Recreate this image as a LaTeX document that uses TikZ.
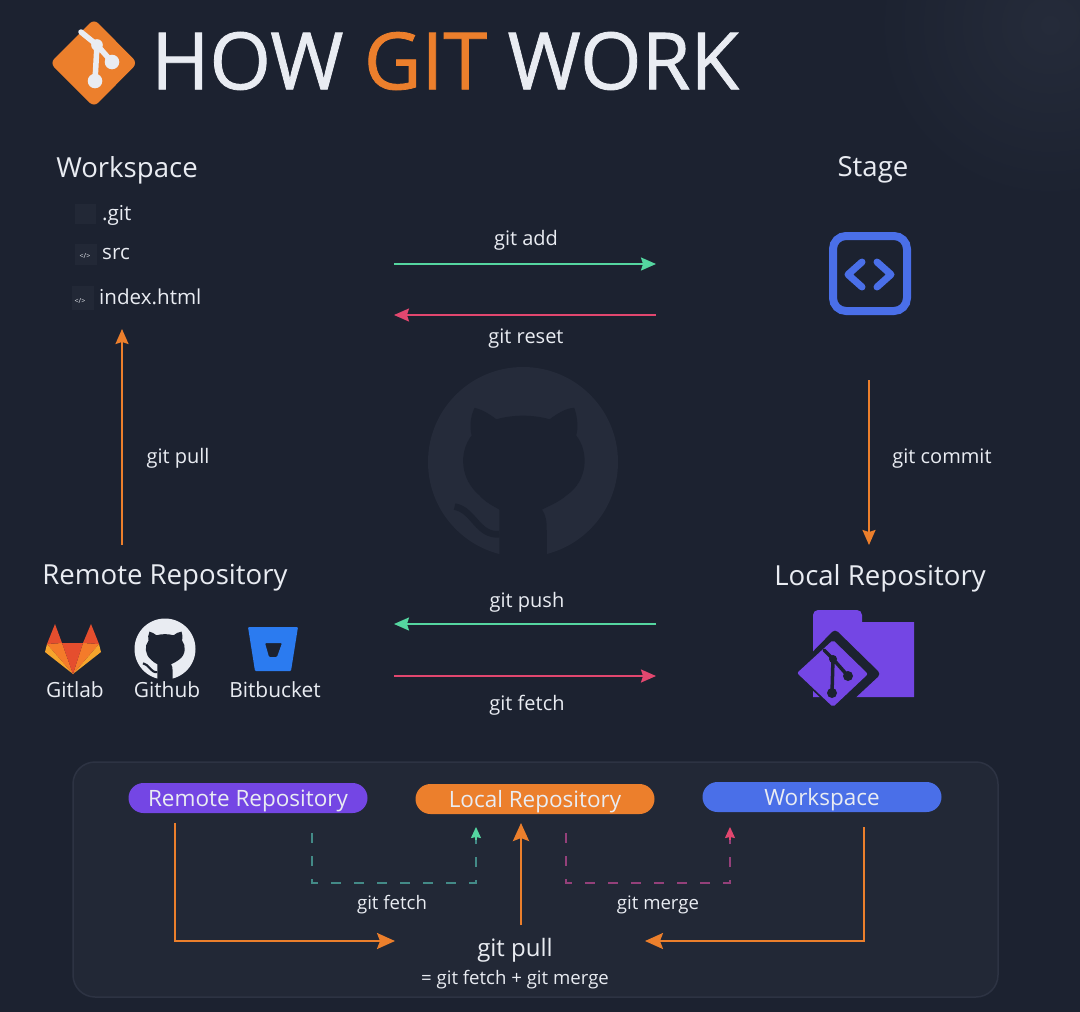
\documentclass[tikz,border=0pt]{standalone}
\usepackage{fontspec}
\setmainfont{Open Sans}
\newfontfamily\titlefont[FakeBold=1]{Open Sans}
\usetikzlibrary{arrows.meta}
\definecolor{pageBg}{HTML}{1C2230}
\definecolor{panelBg}{HTML}{222836}
\definecolor{panelEdge}{HTML}{2D3343}
\definecolor{ringGrey}{HTML}{252B3A}
\definecolor{softWhite}{HTML}{E9ECF2}
\definecolor{gitOrange}{HTML}{EC7F2C}
\definecolor{flowGreen}{HTML}{55D6A0}
\definecolor{flowPink}{HTML}{E2476F}
\definecolor{dashTeal}{HTML}{438A87}
\definecolor{dashPink}{HTML}{94407A}
\definecolor{iconBlue}{HTML}{4A6FE8}
\definecolor{iconPurple}{HTML}{7446E4}
\definecolor{bucketBlue}{HTML}{2B7BF0}
\definecolor{fileBox}{HTML}{222836}
\definecolor{labRed}{HTML}{E54E2E}
\definecolor{labOrange}{HTML}{F47B2A}
\definecolor{labYellow}{HTML}{F6A52C}
\tikzset{
	flowlabel/.style={inner sep=0pt, yshift=-2.5pt, text=softWhite, font=\fontsize{20}{24}\selectfont},
	filelabel/.style={inner sep=0pt, yshift=-2pt, anchor=west, text=softWhite, font=\fontsize{20.6}{24}\selectfont},
	iconlabel/.style={inner sep=0pt, yshift=-1pt, text=softWhite, font=\fontsize{20.9}{24}\selectfont},
	heading/.style={inner sep=0pt, yshift=-3pt, text=softWhite, font=\fontsize{27.6}{32}\selectfont},
	smalllabel/.style={inner sep=0pt, yshift=-2.5pt, text=softWhite, font=\fontsize{18.6}{22}\selectfont},
	flow/.style={line width=1.8pt, -{Stealth[length=15pt,width=13pt,inset=2pt]}},
	bigflow/.style={line width=2.2pt, -{Stealth[length=18pt,width=16pt,inset=3pt]}},
	pill/.style={rounded corners=15pt, minimum width=239pt, minimum height=30pt, inner sep=0pt, text height=16pt, text depth=0pt, text=softWhite, font=\fontsize{22.5}{26}\selectfont},
	dashline/.style={line width=1.4pt, dash pattern=on 10pt off 13pt, dash phase=17pt},
	dashtip/.style={-{Stealth[length=11pt,width=10pt,inset=1pt]}}
}
\newcommand{\drawOctocat}[4]{
	\begin{scope}[shift={(#1)}, x=#2pt, y=-#2pt]
		\fill[#3] (0,0) circle (1);
		\fill[#4] (-0.51,-0.57) .. controls (-0.42,-0.55) and (-0.35,-0.50) .. (-0.28,-0.45)
			.. controls (-0.1,-0.5) and (0.1,-0.5) .. (0.28,-0.45)
			.. controls (0.35,-0.50) and (0.45,-0.57) .. (0.54,-0.57)
			.. controls (0.58,-0.45) and (0.58,-0.35) .. (0.56,-0.28)
			.. controls (0.70,-0.10) and (0.68,0.20) .. (0.46,0.35)
			.. controls (0.38,0.42) and (0.28,0.46) .. (0.20,0.50)
			.. controls (0.24,0.56) and (0.25,0.62) .. (0.25,0.72)
			-- (0.25,1.02) -- (-0.25,1.02) -- (-0.25,0.50)
			.. controls (-0.32,0.46) and (-0.40,0.42) .. (-0.46,0.35)
			.. controls (-0.66,0.18) and (-0.68,-0.10) .. (-0.54,-0.28)
			.. controls (-0.56,-0.35) and (-0.56,-0.47) .. (-0.51,-0.57) -- cycle;
		\draw[#4, line width=0.07*#2pt] (-0.25,0.76) .. controls (-0.48,0.78) and (-0.52,0.50) .. (-0.72,0.47);
	\end{scope}
}
\newcommand{\drawBranchMark}[7]{
	\draw[#7, line width=#6pt, line cap=round] (#1) -- (#2) -- (#3) (#2) -- (#4);
	\fill[#7] (#2) circle (0.8*#5pt) (#3) circle (#5pt) (#4) circle (#5pt);
}
\begin{document}
\begin{tikzpicture}[x=1pt, y=-1pt]
	\fill[pageBg] (0,0) rectangle (1080,1012);
	\useasboundingbox (0,0) rectangle (1080,1012);

	\begin{scope}
		\clip (0,0) rectangle (1080,1012);
		\shade[inner color=ringGrey, outer color=pageBg] (1050,25) circle (175);
	\end{scope}

	\coordinate (Logo_N) at (94,19);
	\coordinate (Logo_E) at (137.5,63);
	\coordinate (Logo_S) at (94,107);
	\coordinate (Logo_W) at (50,63);
	\fill[gitOrange, rounded corners=6pt] (Logo_N) -- (Logo_E) -- (Logo_S) -- (Logo_W) -- cycle;
	\coordinate (Logo_A) at (81,32);
	\coordinate (Logo_B) at (97,45);
	\coordinate (Logo_C) at (112,62);
	\coordinate (Logo_D) at (95,81);
	\drawBranchMark{Logo_A}{Logo_B}{Logo_C}{Logo_D}{7.3}{5.5}{softWhite}

	\node[inner sep=0pt, anchor=west, text=softWhite, font=\titlefont\fontsize{79}{90}\selectfont] (title) at (151,61)
		{HOW \textcolor{gitOrange}{GIT} WORK};

	\node[heading] (workspace) at (127,167) {Workspace};
	\node[heading] (stage) at (873,167) {Stage};
	\node[heading] (remote) at (165,575) {Remote Repository};
	\node[heading] (local) at (880,575) {Local Repository};

	\fill[fileBox] (75,204) rectangle (96,224);
	\fill[fileBox] (75,244) rectangle (97,265);
	\fill[fileBox] (72,286) rectangle (94,310);
	\node[inner sep=0pt, text=softWhite, font=\fontsize{7}{8}\selectfont] (src_tag) at (85,256) {</>};
	\node[inner sep=0pt, text=softWhite, font=\fontsize{7}{8}\selectfont] (index_tag) at (80,301) {</>};
	\node[filelabel] (git_dir) at (102,213) {.git};
	\node[filelabel] (src_dir) at (102,252) {src};
	\node[filelabel] (index_file) at (99,295) {index.html};

	\draw[iconBlue, line width=8pt, rounded corners=13pt] (833,236) rectangle (907,311);
	\draw[iconBlue, line width=7pt, line cap=round, line join=round] (862,262) -- (848,274.5) -- (862,287);
	\draw[iconBlue, line width=7pt, line cap=round, line join=round] (877,262) -- (891,274.5) -- (877,287);

	\drawOctocat{523,462}{95}{ringGrey}{pageBg}

	\coordinate (Add_L) at (394,264);
	\coordinate (Add_R) at (656,264);
	\coordinate (Reset_L) at (394,315);
	\coordinate (Reset_R) at (656,315);
	\coordinate (Push_L) at (394,624);
	\coordinate (Push_R) at (656,624);
	\coordinate (Fetch_L) at (394,676);
	\coordinate (Fetch_R) at (656,676);
	\coordinate (Pull_B) at (122,545);
	\coordinate (Pull_T) at (122,329);
	\coordinate (Commit_T) at (869,380);
	\coordinate (Commit_B) at (869,545);

	\draw[flow, flowGreen] (Add_L) -- (Add_R);
	\draw[flow, flowPink] (Reset_R) -- (Reset_L);
	\draw[flow, flowGreen] (Push_R) -- (Push_L);
	\draw[flow, flowPink] (Fetch_L) -- (Fetch_R);
	\draw[flow, gitOrange] (Pull_B) -- (Pull_T);
	\draw[flow, gitOrange] (Commit_T) -- (Commit_B);

	\node[flowlabel] (add_label) at (526,238) {git add};
	\node[flowlabel] (reset_label) at (526,336) {git reset};
	\node[flowlabel] (push_label) at (527,600) {git push};
	\node[flowlabel] (fetch_label) at (527,703) {git fetch};
	\node[flowlabel] (pull_label) at (178,456) {git pull};
	\node[flowlabel] (commit_label) at (942,456) {git commit};

	\fill[labYellow] (47,644) -- (45,652) -- (73,674) -- cycle;
	\fill[labOrange] (47,644) -- (62,643) -- (73,674) -- cycle;
	\fill[labYellow] (99,644) -- (101,652) -- (73,674) -- cycle;
	\fill[labOrange] (99,644) -- (83,643) -- (73,674) -- cycle;
	\fill[labRed] (55,624) -- (62,643) -- (47,644) -- cycle;
	\fill[labRed] (91,624) -- (83,643) -- (99,644) -- cycle;
	\fill[labRed] (62,643) -- (83,643) -- (73,674) -- cycle;
	\drawOctocat{165,649}{30.5}{softWhite}{pageBg}
	\fill[bucketBlue, even odd rule, rounded corners=1pt] (248,627) -- (298,627) -- (291,671) -- (255,671) -- cycle
		(265,643) -- (282,643) -- (277,657) -- (269,657) -- cycle;
	\node[iconlabel] (gitlab_label) at (75,689) {Gitlab};
	\node[iconlabel] (github_label) at (167,689) {Github};
	\node[iconlabel] (bitbucket_label) at (275,689) {Bitbucket};

	\fill[iconPurple] (813,697) -- (813,615) arc (180:270:5) -- (857,610) arc (-90:0:5) -- (862,622) -- (914,622) -- (914,697) -- cycle;
	\fill[pageBg, rounded corners=4pt] (835,629) -- (881,674) -- (838,714) -- (793,672) -- cycle;
	\fill[iconPurple, rounded corners=2pt] (833,640) -- (868,674) -- (833,707) -- (797,673) -- cycle;
	\coordinate (Folder_A) at (824,650);
	\coordinate (Folder_B) at (833,659);
	\coordinate (Folder_C) at (848,676);
	\coordinate (Folder_D) at (832,693);
	\drawBranchMark{Folder_A}{Folder_B}{Folder_C}{Folder_D}{5}{3.5}{pageBg}

	\draw[panelEdge, fill=panelBg, line width=1.5pt, rounded corners=22pt] (73,762) rectangle (998,997);

	\node[pill, fill=iconPurple] (remote_pill) at (248,798) {Remote Repository};
	\node[pill, fill=gitOrange] (local_pill) at (535,799) {Local Repository};
	\node[pill, fill=iconBlue] (workspace_pill) at (822,797) {Workspace};

	\node[inner sep=0pt, yshift=-3pt, text=softWhite, font=\fontsize{24}{28}\selectfont] (pull_result) at (515,947) {git pull};
	\node[smalllabel] (pull_sum) at (515,977) {= git fetch + git merge};
	\node[smalllabel] (fetch_step) at (392,902) {git fetch};
	\node[smalllabel] (merge_step) at (658,902) {git merge};

	\coordinate (Remote_Out) at (175,823);
	\coordinate (Remote_In) at (395,941);
	\coordinate (Work_Out) at (864,827);
	\coordinate (Work_In) at (645,941);
	\coordinate (Local_In) at (521,823);
	\coordinate (Local_Out) at (521,925);
	\draw[bigflow, gitOrange] (Remote_Out) |- (Remote_In);
	\draw[bigflow, gitOrange] (Work_Out) |- (Work_In);
	\draw[bigflow, gitOrange, line width=2.8pt] (Local_Out) -- (Local_In);

	\coordinate (FetchDash_S) at (312,827);
	\coordinate (FetchDash_E) at (476,827);
	\coordinate (MergeDash_S) at (566,827);
	\coordinate (MergeDash_E) at (730,827);
	\draw[dashline, dashTeal] (FetchDash_S) -- (312,883) -- (476,883) -- (476,838);
	\draw[dashline, dashPink] (MergeDash_S) -- (566,883) -- (730,883) -- (730,838);
	\draw[dashtip, flowGreen, line width=1.1pt] (476,840) -- (FetchDash_E);
	\draw[dashtip, flowPink, line width=1.1pt] (730,840) -- (MergeDash_E);
\end{tikzpicture}
\end{document}
